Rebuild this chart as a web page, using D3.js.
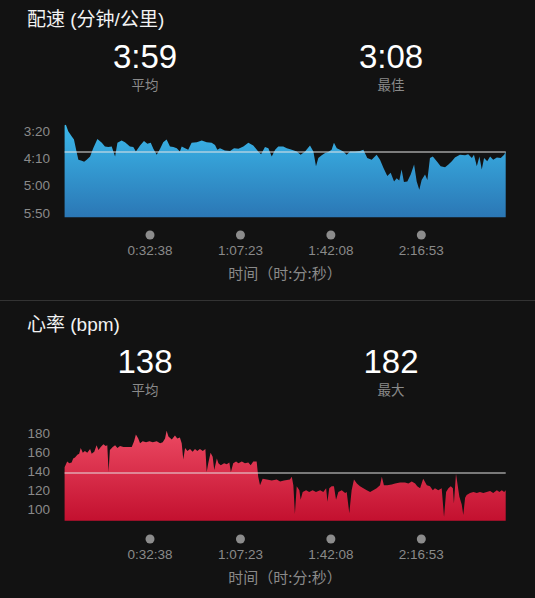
<!DOCTYPE html>
<html><head><meta charset="utf-8">
<script src="https://cdn.jsdelivr.net/npm/d3@7"></script>
<style>
html,body{margin:0;padding:0;background:#121212;}
svg{display:block;}
</style></head><body>
<svg id="c" width="535" height="598"></svg>
<script>
// ---------- DATA ----------
// elapsed time in minutes, pace in seconds per km
const paceTime = [0,0.5,1.4,2.7,3.6,4.7,5.3,6.6,7.5,8.5,9.8,11.0,12.6,14.3,15.5,16.8,18.1,19.4,20.3,21.9,23.2,25.1,26.4,27.4,29.0,30.5,31.8,33.1,34.1,35.4,36.7,37.9,39.2,40.5,41.8,43.1,44.3,45.0,46.3,47.5,48.8,50.8,52.7,54.6,56.5,57.8,58.7,59.7,61.6,63.6,65.1,66.8,68.7,70.6,72.5,74.4,75.5,77.0,78.3,79.6,80.9,82.1,84.0,85.4,87.3,89.2,90.7,92.4,94.3,95.6,96.6,97.5,98.8,100.1,101.3,102.6,103.5,104.6,105.8,107.1,108.4,109.7,111.6,113.5,114.8,116.3,118.0,119.9,121.2,122.5,124.0,125.3,126.6,127.6,128.6,129.5,130.4,131.7,133.0,134.3,135.3,136.3,137.2,138.5,139.4,140.4,141.5,143.0,144.5,146.2,147.5,148.8,150.0,151.9,153.9,155.1,156.5,157.3,158.4,159.4,160.3,161.2,162.4,163.5,164.7,166.1,167.6,168.9,169.5];
const paceSec = [190,189,201,210,216,241,253,255,257,253,247,232,215,222,229,230,229,247,222,218,221,229,230,238,227,219,224,222,233,244,233,221,216,229,230,232,238,229,232,235,222,221,218,221,222,226,235,232,236,237,232,233,229,222,227,238,243,230,232,247,235,229,229,232,235,238,244,238,227,238,265,250,245,241,239,235,222,232,235,238,244,238,238,237,235,250,253,244,253,268,283,277,293,287,291,271,294,293,280,262,293,308,290,280,290,250,247,256,265,267,262,256,249,244,245,243,250,244,265,247,271,250,256,247,253,249,250,244,238];

const hrTime = [0,1.0,1.8,2.7,3.3,4.0,4.9,5.6,6.2,7.0,7.8,8.7,9.8,10.4,11.4,12.3,13.0,13.9,14.9,15.8,16.4,16.9,17.4,18.5,19.4,20.3,21.3,22.6,23.9,25.8,26.7,27.4,28.3,29.0,30.0,31.3,32.6,33.9,35.4,36.7,37.7,38.6,39.2,39.9,41.2,42.4,43.3,44.3,45.0,45.6,46.3,47.2,48.2,49.2,50.1,51.0,52.0,53.1,54.1,54.6,55.2,56.1,56.9,57.5,58.5,59.1,60.0,61.3,62.3,63.3,63.9,64.8,65.9,66.8,68.1,69.3,70.6,71.5,72.5,73.8,74.4,75.1,76.1,77.7,79.6,81.5,82.8,84.3,86.6,87.3,87.9,88.5,89.2,90.2,90.7,91.5,92.8,94.0,95.3,96.6,98.2,99.4,100.5,101.0,101.7,102.6,103.5,104.3,105.2,106.5,107.8,108.4,109.4,110.3,111.2,112.3,113.5,114.8,116.1,117.4,118.6,119.9,121.2,121.9,122.7,124.0,125.7,127.0,128.9,130.8,132.1,133.4,134.7,135.5,136.6,137.8,139.2,140.4,141.5,142.3,143.6,144.9,145.8,146.6,147.5,148.4,149.2,149.6,150.4,151.1,151.7,152.6,153.2,153.9,154.5,155.8,157.1,158.4,159.6,160.9,162.2,163.5,164.7,166.1,167.1,168.0,168.9,169.5];
const hrBpm = [144,150,148,149,153,154,157,158,164,159,161,159,163,158,160,167,162,165,168,166,167,139,162,165,167,164,166,165,165,165,171,178,174,169,171,170,171,170,171,169,170,174,182,176,173,177,174,175,169,152,164,161,163,160,163,161,163,161,163,139,148,159,155,141,153,148,146,148,147,149,139,148,150,148,150,148,149,146,150,150,134,125,132,131,130,131,129,130,131,134,125,95,124,120,110,118,120,118,120,118,120,118,122,108,122,124,124,110,118,120,117,118,96,120,131,127,124,122,120,118,120,122,125,134,125,125,126,127,128,128,127,129,127,124,122,132,125,124,120,122,120,122,92,118,122,124,122,106,137,124,113,105,94,112,115,117,118,117,118,117,118,119,117,120,118,120,118,120];

const totalMinutes = 169.5;
const timeTickLabels = ["0:32:38","1:07:23","1:42:08","2:16:53"];
const timeAxisTitle = "时间（时:分:秒）";

const paceTitle = "配速 (分钟/公里)";
const paceStatValues = ["3:59","3:08"];
const paceStatLabels = ["平均","最佳"];
const paceTickLabels = ["3:20","4:10","5:00","5:50"];

const hrTitle = "心率 (bpm)";
const hrStatValues = ["138","182"];
const hrStatLabels = ["平均","最大"];
const hrTickValues = [100,120,140,160,180];

// ---------- HELPERS ----------
const hmsToMin = s => { const p = s.split(":").map(Number); return p[0]*60 + p[1] + p[2]/60; };
const msToSec = s => { const p = s.split(":").map(Number); return p[0]*60 + p[1]; };

const svg = d3.select("#c");
const NUM_FONT = "'Liberation Sans','Noto Sans CJK SC',sans-serif";
const CJK_FONT = "'Noto Sans CJK SC','Liberation Sans',sans-serif";
const GRAY = "#8a8a8a";

svg.append("rect").attr("width",535).attr("height",598).attr("fill","#121212");

const x = d3.scaleLinear().domain([0,totalMinutes]).range([64.6,505.7]);

const defs = svg.append("defs");
function grad(id, y1, y2, c1, c2){
  const g = defs.append("linearGradient").attr("id",id)
    .attr("gradientUnits","userSpaceOnUse").attr("x1",0).attr("x2",0).attr("y1",y1).attr("y2",y2);
  g.append("stop").attr("offset","0%").attr("stop-color",c1);
  g.append("stop").attr("offset","100%").attr("stop-color",c2);
}
grad("gPace",124,217,"#3bb8ea","#2b77b5");
grad("gHr",430,521,"#ec4a63","#c3102f");

function header(top, title, vals, labs){
  svg.append("text").attr("x",27).attr("y",top+26).attr("fill","#f2f2f2")
    .attr("font-family",NUM_FONT).attr("font-size",19).text(title);
  const cx = [145,391];
  vals.forEach((v,i)=>{
    svg.append("text").attr("x",cx[i]).attr("y",top+68).attr("text-anchor","middle")
      .attr("fill","#ffffff").attr("font-family",NUM_FONT).attr("font-size",33).text(v);
    svg.append("text").attr("x",cx[i]).attr("y",top+89.5).attr("text-anchor","middle")
      .attr("fill",GRAY).attr("font-family",CJK_FONT).attr("font-size",13.5).text(labs[i]);
  });
}

function timeAxis(dotY){
  const ticks = timeTickLabels.map(hmsToMin);
  const ax = d3.axisBottom(x).tickValues(ticks).tickSize(0).tickPadding(0)
    .tickFormat((d,i)=>timeTickLabels[i]);
  const g = svg.append("g").attr("transform",`translate(0,${dotY+10})`).call(ax);
  g.select(".domain").remove();
  g.selectAll("text").attr("fill",GRAY).attr("font-family",NUM_FONT).attr("font-size",13.5);
  g.selectAll(".tick").append("circle").attr("cx",0).attr("cy",-10).attr("r",4.5).attr("fill","#8c8c8c");
  svg.append("text").attr("x",285).attr("y",dotY+44).attr("text-anchor","middle")
    .attr("fill",GRAY).attr("font-family",CJK_FONT).attr("font-size",15).text(timeAxisTitle);
}

// ---------- PACE ----------
header(0, paceTitle, paceStatValues, paceStatLabels);
const yP = d3.scaleLinear().domain([200,350]).range([130.7,212.7]);
const paceBase = 217.3;
const paceData = paceTime.map((t,i)=>({t, v:paceSec[i]}));
svg.append("path").datum(paceData)
  .attr("d", d3.area().x(d=>x(d.t)).y0(paceBase).y1(d=>yP(d.v)))
  .attr("fill","url(#gPace)");
const paceAvg = msToSec(paceStatValues[0]);
svg.append("line").attr("x1",x(0)).attr("x2",x(totalMinutes))
  .attr("y1",yP(paceAvg)).attr("y2",yP(paceAvg))
  .attr("stroke","#e6e6e6").attr("stroke-width",1.2);
const axP = d3.axisLeft(yP).tickValues(paceTickLabels.map(msToSec)).tickSize(0).tickPadding(0)
  .tickFormat((d,i)=>paceTickLabels[i]);
const gP = svg.append("g").attr("transform","translate(50,0)").call(axP);
gP.select(".domain").remove();
gP.selectAll("text").attr("fill",GRAY).attr("font-family",NUM_FONT).attr("font-size",13.5);
timeAxis(235);

// separator
svg.append("line").attr("x1",0).attr("x2",535).attr("y1",300.5).attr("y2",300.5)
  .attr("stroke","#333").attr("stroke-width",1);

// ---------- HEART RATE ----------
header(305, hrTitle, hrStatValues, hrStatLabels);
const yH = d3.scaleLinear().domain([100,180]).range([509.3,432.7]);
const hrBase = 520.7;
const hrData = hrTime.map((t,i)=>({t, v:hrBpm[i]}));
svg.append("path").datum(hrData)
  .attr("d", d3.area().x(d=>x(d.t)).y0(hrBase).y1(d=>yH(d.v)))
  .attr("fill","url(#gHr)");
const hrAvg = +hrStatValues[0];
svg.append("line").attr("x1",x(0)).attr("x2",x(totalMinutes))
  .attr("y1",yH(hrAvg)).attr("y2",yH(hrAvg))
  .attr("stroke","rgba(230,230,230,0.65)").attr("stroke-width",1.5);
const axH = d3.axisLeft(yH).tickValues(hrTickValues).tickSize(0).tickPadding(0);
const gH = svg.append("g").attr("transform","translate(50,0)").call(axH);
gH.select(".domain").remove();
gH.selectAll("text").attr("fill",GRAY).attr("font-family",NUM_FONT).attr("font-size",13.5);
timeAxis(539);
</script>
</body></html>
